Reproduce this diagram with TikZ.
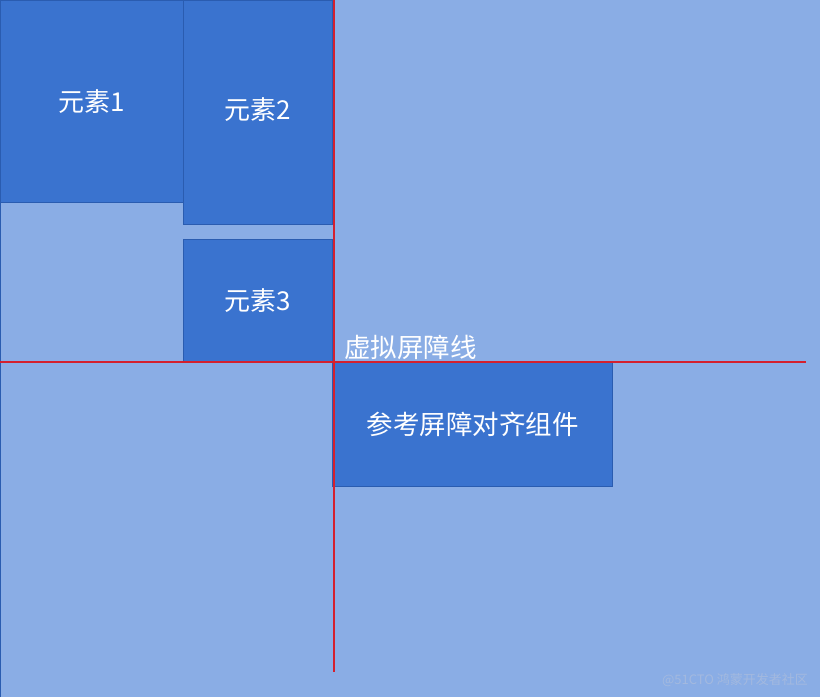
\documentclass[tikz,border=0pt]{standalone}
\usepackage{fontspec}
\usepackage{tikz}
\newfontfamily\cjk{Noto Sans CJK SC}
\definecolor{BgBlue}{HTML}{8AADE5}
\definecolor{BoxBlue}{HTML}{3A73CF}
\definecolor{EdgeBlue}{HTML}{2A5CB0}
\definecolor{LineRed}{HTML}{D4202E}
\definecolor{MarkGray}{HTML}{A3B9DF}
\tikzset{
    elembox/.style={draw=EdgeBlue,line width=1pt,fill=BoxBlue,text=white,anchor=north west,inner sep=0pt,font=\cjk\fontsize{26}{30}\selectfont},
    barrier/.style={LineRed,line width=2pt}
}

\begin{document}
\begin{tikzpicture}[x=1pt,y=-1pt]
                \useasboundingbox (0,0) rectangle (820,697);
                \fill[BgBlue] (0,0) rectangle (820,697);
                \draw[EdgeBlue,line width=1.2pt] (0.6,0) -- (0.6,697);

                \node[elembox,minimum width=183pt,minimum height=202pt] (elem1) at (0,0) {元素1};
                \node[elembox,minimum width=149pt,minimum height=224pt] (elem2) at (183,0) {\raisebox{8pt}{元素2}};
                \node[elembox,minimum width=149pt,minimum height=123pt] (elem3) at (183,239) {\raisebox{2pt}{元素3}};
                \node[elembox,minimum width=280pt,minimum height=124pt,font=\cjk\fontsize{26.5}{31}\selectfont] (refcomp) at (332,362) {\raisebox{3pt}{参考屏障对齐组件}};

                \coordinate (hstart) at (0,362);
                \coordinate (hend) at (806,362);
                \coordinate (vstart) at (333.5,0);
                \coordinate (vend) at (333.5,672);
                \draw[barrier] (hstart) -- (hend);
                \draw[barrier] (vstart) -- (vend);

                \node[anchor=west,inner sep=0pt,text=white,font=\cjk\fontsize{26.5}{31}\selectfont] (barrierlabel) at (344,347) {虚拟屏障线};
                \node[anchor=east,inner sep=0pt,text=MarkGray,font=\cjk\fontsize{13}{15}\selectfont] (mark) at (808,680) {@51CTO 鸿蒙开发者社区};
\end{tikzpicture}
\end{document}
